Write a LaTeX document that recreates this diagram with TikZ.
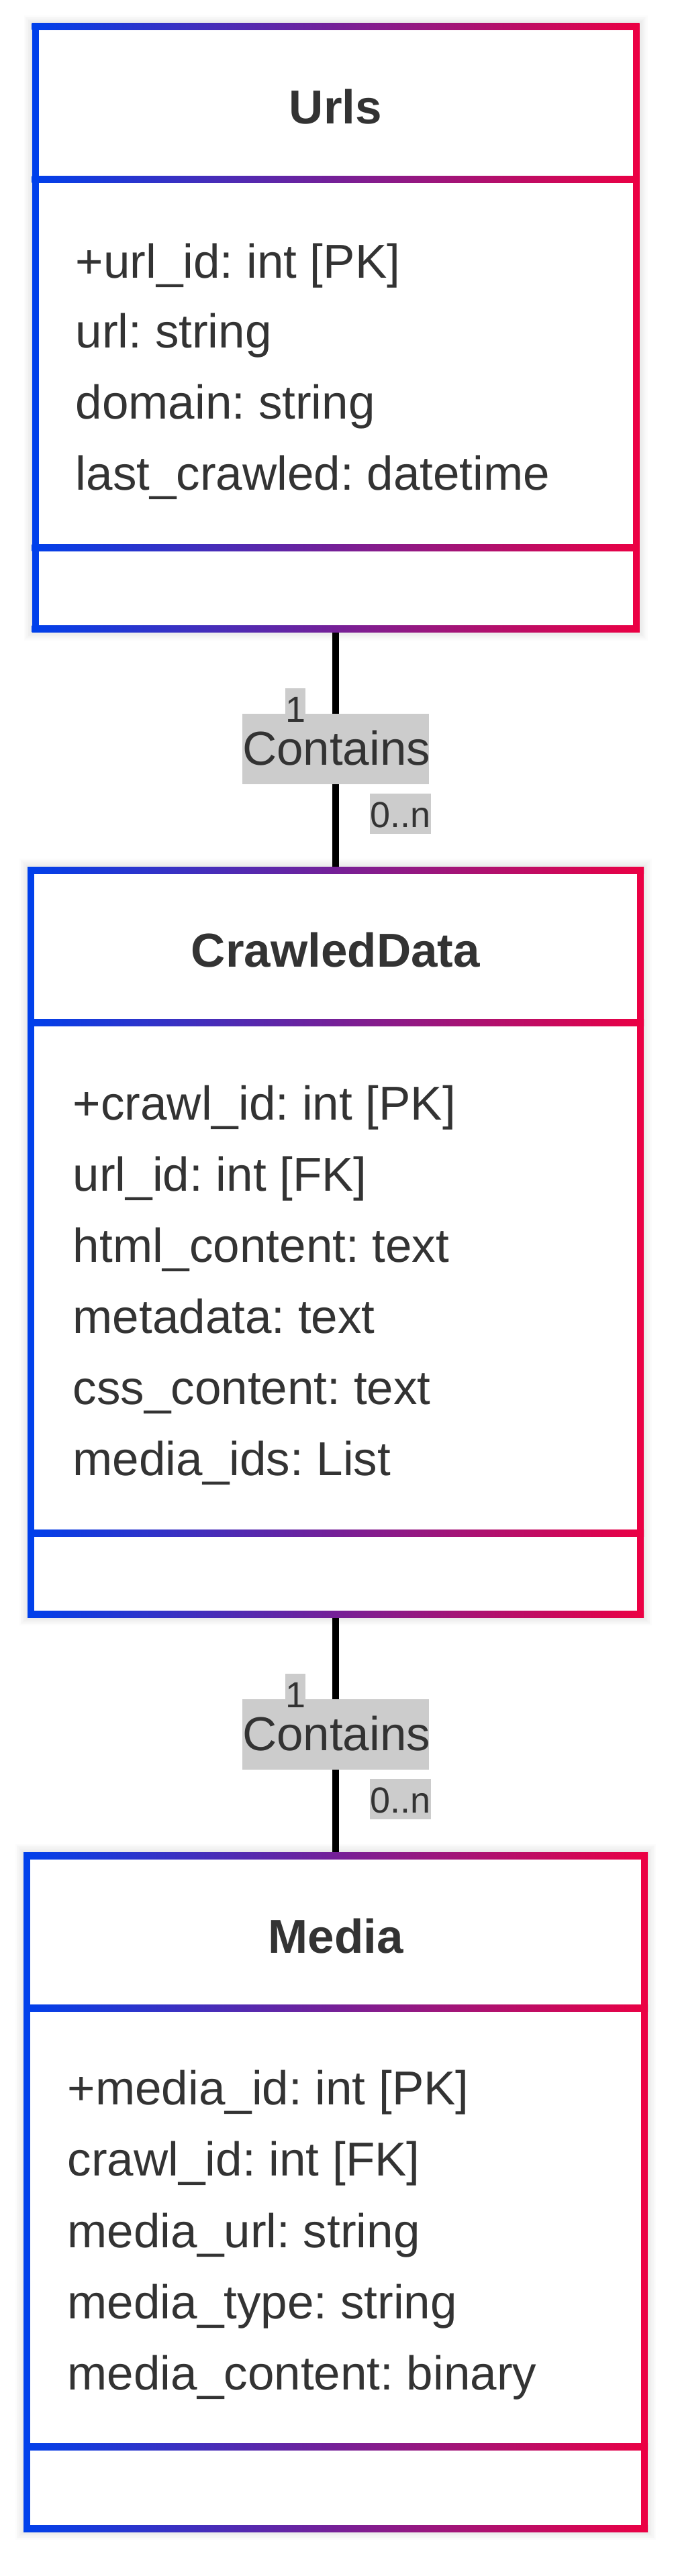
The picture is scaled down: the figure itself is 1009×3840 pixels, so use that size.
\documentclass[tikz,border=0pt]{standalone}
\usepackage{fontspec}
\setmainfont{Liberation Sans}
\frenchspacing
\usetikzlibrary{fit,backgrounds}
\definecolor{cblue}{RGB}{0,64,235}
\definecolor{cred}{RGB}{235,0,68}
\definecolor{ctext}{HTML}{333333}
\definecolor{clabel}{HTML}{CCCCCC}
\tikzset{
 rowtext/.style={anchor=base west, inner sep=0pt, text=ctext, font=\fontsize{17.75pt}{21pt}\selectfont},
 titletext/.style={anchor=base, inner sep=0pt, text=ctext, font=\fontsize{17.75pt}{21pt}\selectfont\bfseries},
 conn/.style={line width=2.4pt, black},
 relbox/.style={fill=clabel, inner sep=0pt, text=ctext, anchor=base, align=center, font=\fontsize{17.75pt}{21pt}\selectfont, text height=19pt, text depth=7.25pt, text width=69.5pt},
 multbox/.style={fill=clabel, inner sep=0pt, text=ctext, anchor=base, align=center, font=\fontsize{13.5pt}{15pt}\selectfont, text height=12.5pt, text depth=2.5pt},
 framebox/.style={inner sep=0pt, draw=none}
}
% #1 name, #2 left, #3 top, #4 right, #5 bottom, #6 divider 1, #7 divider 2
\newcommand\classframe[7]{%
 \foreach \k in {1,...,10}{\fill[black,opacity=0.012] (#2-\k*1.7,#3-\k*1.7) rectangle (#4+\k*1.7,#5+\k*1.7);}
 \fill[white] (#2,#3) rectangle (#4,#5);
 \foreach \yy in {#3,#6,#7,#5}{\shade[left color=cblue,right color=cred] (#2-5,\yy-5) rectangle (#4+5,\yy+5);}
 \fill[cblue] (#2-5,#3-5) rectangle (#2+5,#5+5);
 \fill[cred] (#4-5,#3-5) rectangle (#4+5,#5+5);
 \node[framebox, fit={(#2,#3) (#4,#5)}] (#1) {};
}
\begin{document}
\begin{tikzpicture}[x=0.25pt,y=-0.25pt]
\useasboundingbox (0,0) rectangle (1009,3840);

% Urls
\classframe{urls}{52.5}{40}{947.5}{937.5}{268}{816.5}
\node[titletext] (urlsT) at (500,185) {Urls};
\node[rowtext] (u1) at (112,415) {+url\_id: int [PK]};
\node[rowtext] (u2) at (112,519) {url: string};
\node[rowtext] (u3) at (112,625) {domain: string};
\node[rowtext] (u4) at (112,730) {last\_crawled: datetime};

% CrawledData
\classframe{crawled}{46}{1297}{954}{2406}{1524}{2285}
\node[titletext] (crawledT) at (500,1441) {CrawledData};
\node[rowtext] (c1) at (108,1669) {+crawl\_id: int [PK]};
\node[rowtext] (c2) at (108,1775) {url\_id: int [FK]};
\node[rowtext] (c3) at (108,1881) {html\_content: text};
\node[rowtext] (c4) at (108,1987) {metadata: text};
\node[rowtext] (c5) at (108,2093) {css\_content: text};
\node[rowtext] (c6) at (108,2199) {media\_ids: List};

% Media
\classframe{media}{40}{2766}{960}{3769}{2993.5}{3647}
\node[titletext] (mediaT) at (500,2911) {Media};
\node[rowtext] (m1) at (100,3137) {+media\_id: int [PK]};
\node[rowtext] (m2) at (100,3243) {crawl\_id: int [FK]};
\node[rowtext] (m3) at (100,3350) {media\_url: string};
\node[rowtext] (m4) at (100,3456) {media\_type: string};
\node[rowtext] (m5) at (100,3562) {media\_content: binary};

% connectors
\begin{scope}[on background layer]
 \fill[white] (0,0) rectangle (1009,3840);
 \draw[conn] (urls.south) -- (crawled.north);
 \draw[conn] (crawled.south) -- (media.north);
\end{scope}

% relation labels
\node[relbox] (rel1) at (500,1140) {Contains};
\node[multbox, text width=7.5pt] (rel1a) at (440,1076) {1};
\node[multbox, text width=22.75pt] (rel1b) at (596.5,1233) {0..n};

\node[relbox] (rel2) at (500,2609) {Contains};
\node[multbox, text width=7.5pt] (rel2a) at (440,2545) {1};
\node[multbox, text width=22.75pt] (rel2b) at (596.5,2702) {0..n};
\end{tikzpicture}
\end{document}
